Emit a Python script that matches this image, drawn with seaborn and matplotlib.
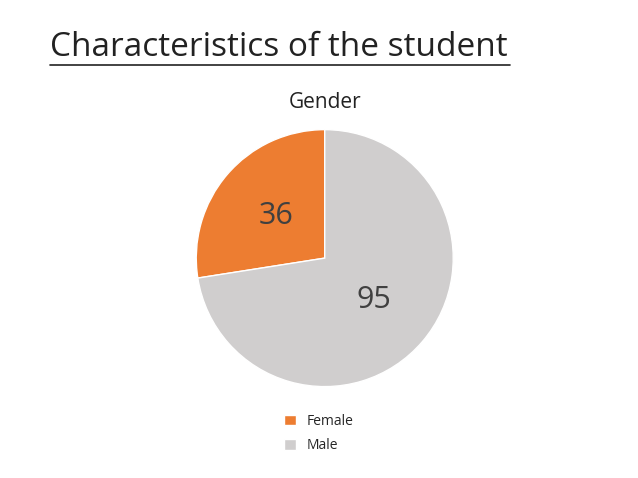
import matplotlib
matplotlib.use("Agg")
import matplotlib.pyplot as plt
import seaborn as sns
from matplotlib.patches import Patch

categories = ["Female", "Male"]
values = [36, 95]
colors = ["#ED7D31", "#D0CECE"]

sns.set_theme(style="white")
plt.rcParams['font.family'] = ['Open Sans', 'DejaVu Sans']

fig = plt.figure(figsize=(6.38, 4.78), dpi=100)
fig.text(0.078, 0.882, "Characteristics of the student", fontsize=24, color="#222222", ha="left", va="baseline")
fig.add_artist(plt.Line2D([0.078, 0.80], [0.865, 0.865], color="#222222", lw=1.2))
fig.text(0.509, 0.785, "Gender", fontsize=15, color="#222222", ha="center", va="center")

w, h = 0.5035, 0.672
ax = fig.add_axes([0.509 - w/2, 0.46 - h/2, w, h])
wedges, texts, autotexts = ax.pie(values, colors=colors, startangle=90, counterclock=True,
       autopct=lambda p: f"{round(p*sum(values)/100)}", pctdistance=0.5,
       wedgeprops=dict(edgecolor="white", linewidth=1))
for t in autotexts:
    t.set_fontsize(22)
    t.set_color("#404040")
ax.set_aspect("equal")

handles = [Patch(facecolor=c, label=l) for c, l in zip(colors, categories)]
fig.legend(handles=handles, loc="center", bbox_to_anchor=(0.5, 0.093), frameon=False,
           fontsize=10, handlelength=0.8, handleheight=0.8, labelspacing=0.7)
fig.savefig("out.png", dpi=100)
